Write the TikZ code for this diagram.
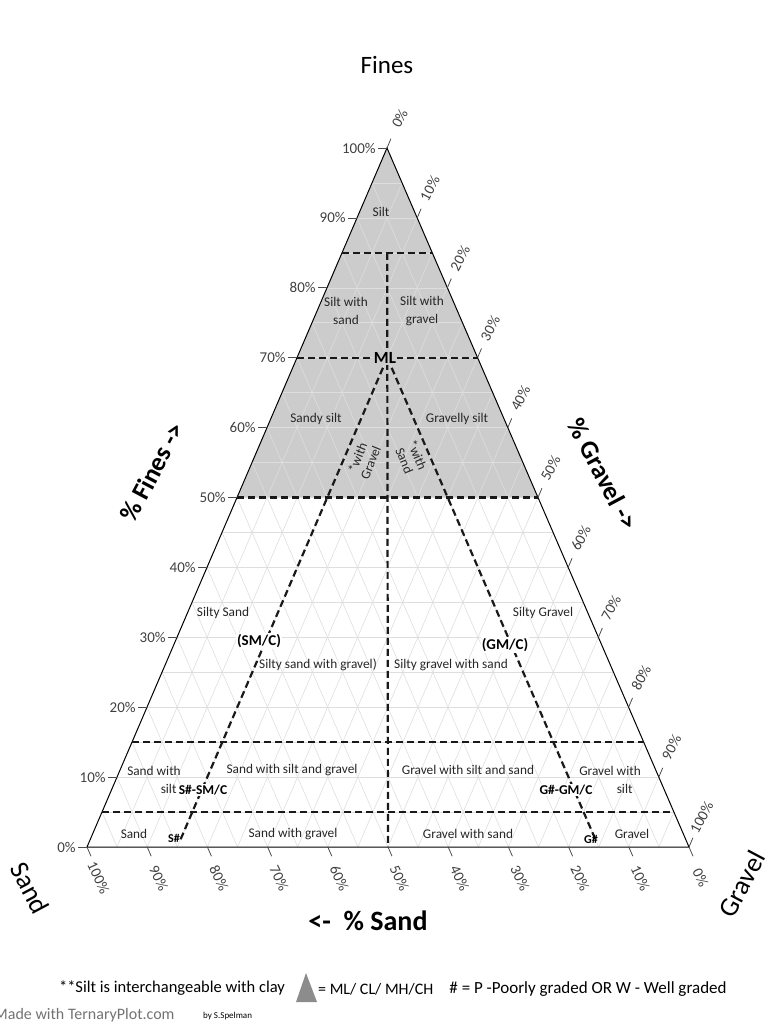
\documentclass[tikz,border=0pt]{standalone}
\usepackage{fontspec}
\setmainfont{Carlito}
\usetikzlibrary{calc}
\begin{document}
\begin{tikzpicture}[x=1pt,y=-1pt,
  lbl/.style={font=\fontsize{13.3}{14}\selectfont, text=black!85, align=center, inner sep=1pt},
  blbl/.style={font=\fontsize{15}{16}\selectfont\bfseries, inner sep=1pt},
  tl/.style={font=\fontsize{15}{16}\selectfont, text=black!75, inner sep=0pt},
  dl/.style={line width=2.2pt, dash pattern=on 7pt off 4pt, black!90},
  grid/.style={line width=0.6pt, black!13}]
\useasboundingbox (0,0) rectangle (768,1024);
\coordinate (S) at (87,847);
\coordinate (G) at (689,847);
\coordinate (T) at (387,148);
% shaded region
\fill[black!20] (barycentric cs:S=0.5,T=0.5) -- (T) -- (barycentric cs:G=0.5,T=0.5) -- cycle;
% grid
\foreach \i in {1,...,19}{
  \pgfmathsetmacro\a{\i/20}\pgfmathsetmacro\b{1-\a}
  \draw[grid] (barycentric cs:S=\b,T=\a) -- (barycentric cs:G=\b,T=\a);
  \draw[grid] (barycentric cs:S=\b,G=\a) -- (barycentric cs:T=\b,G=\a);
  \draw[grid] (barycentric cs:G=\b,S=\a) -- (barycentric cs:T=\b,S=\a);
}
% outline
\draw[line width=1pt] (S) -- (T) -- (G) -- cycle;
% ticks
\foreach \i in {0,...,10}{
  \pgfmathsetmacro\a{\i/10}\pgfmathsetmacro\b{1-\a}\pgfmathtruncatemacro\p{\i*10}
  \coordinate (fl) at (barycentric cs:S=\b,T=\a);
  \draw[black!70,line width=0.8pt] (fl) -- ++(-9,0) node[tl,anchor=east,xshift=-2pt] {\p\%};
  \coordinate (gr) at (barycentric cs:T=\b,G=\a);
  \draw[black!70,line width=0.8pt] (gr) -- ++(3.9,-9.2);
  \node[tl,rotate=62] at ($(gr)+(12.6,-29.5)$) {\p\%};
  \coordinate (sb) at (barycentric cs:G=\b,S=\a);
  \draw[black!70,line width=0.8pt] (sb) -- ++(4,9.2);
  \node[tl,rotate=-65] at ($(sb)+(11.5,31)$) {\p\%};
}
% dashed lines
\draw[dl] (barycentric cs:S=0.15,T=0.85) -- (barycentric cs:G=0.15,T=0.85);
\draw[dl] (barycentric cs:S=0.3,T=0.7) -- (barycentric cs:G=0.3,T=0.7);
\draw[dl] (barycentric cs:S=0.5,T=0.5) -- (barycentric cs:G=0.5,T=0.5);
\draw[dl] (barycentric cs:S=0.85,T=0.15) -- (barycentric cs:G=0.85,T=0.15);
\draw[dl] (barycentric cs:S=0.95,T=0.05) -- (barycentric cs:G=0.95,T=0.05);
\draw[dl] (barycentric cs:S=0.075,G=0.075,T=0.85) -- (barycentric cs:S=0.5,G=0.5);
\draw[dl] (barycentric cs:S=0.15,G=0.15,T=0.7) -- (barycentric cs:S=0.84,G=0.15,T=0.01);
\draw[dl] (barycentric cs:S=0.15,G=0.15,T=0.7) -- (barycentric cs:S=0.15,G=0.84,T=0.01);
% labels
\node[lbl] (silt) at (381,212) {Silt};
\node[lbl] (sws) at (346,311) {Silt with\\[4pt]sand};
\node[lbl] (swg) at (422,311) {Silt with\\[4pt]gravel};
\node[font=\fontsize{17}{18}\selectfont\bfseries, fill=black!20, inner sep=1pt] (ml) at (385,358) {ML};
\node[lbl] (sdsilt) at (316,419) {Sandy silt};
\node[lbl] (gvsilt) at (457,419) {Gravelly silt};
\node[lbl,rotate=68] (wg) at (364,460) {*with\\Gravel};
\node[lbl,rotate=-68] (wsd) at (411,458) {*with\\Sand};
\node[lbl] (ssand) at (223,613) {Silty Sand};
\node[blbl,fill=white] (smc) at (259,641) {(SM/C)};
\node[lbl] (sswg) at (318,665) {Silty sand with gravel)};
\node[lbl] (sgws) at (451,665) {Silty gravel with sand};
\node[lbl] (sgrav) at (543,613) {Silty Gravel};
\node[blbl,fill=white] (gmc) at (505,645) {(GM/C)};
\node[lbl] (swsilt) at (154,780) {Sand with\\[4pt]\hspace*{2.2em}silt};
\node[blbl,fill=white,font=\fontsize{13.5}{14}\selectfont\bfseries] (ssmc) at (203,790) {S\#-SM/C};
\node[lbl] (swsg) at (292,770) {Sand with silt and gravel};
\node[lbl] (gwss) at (468,770) {Gravel with silt and sand};
\node[lbl] (gwsilt) at (610,780) {Gravel with\\[4pt]\hspace*{2.2em}silt};
\node[blbl,fill=white,font=\fontsize{13.5}{14}\selectfont\bfseries] (ggmc) at (566,790) {G\#-GM/C};
\node[lbl] (sand) at (134,834) {Sand};
\node[blbl,font=\fontsize{12}{13}\selectfont\bfseries] (sh) at (174,838) {S\#};
\node[lbl] (swgr) at (293,834) {Sand with gravel};
\node[lbl] (gws) at (468,834) {Gravel with sand};
\node[blbl,font=\fontsize{12}{13}\selectfont\bfseries] (gh) at (591,839) {G\#};
\node[lbl] (grav) at (632,834) {Gravel};
% axis titles
\node[font=\fontsize{25}{26}\selectfont] (fines) at (387,65) {Fines};
\node[font=\fontsize{26}{28}\selectfont\bfseries, rotate=62] (fax) at (152,472) {\% Fines ->};
\node[font=\fontsize{26}{28}\selectfont\bfseries, rotate=-62] (gax) at (603,474) {\% Gravel ->};
\node[font=\fontsize{28}{30}\selectfont\bfseries] (sax) at (368,921) {<-\ \ \% Sand};
\node[font=\fontsize{27}{28}\selectfont, rotate=-62] (sandv) at (30,888) {Sand};
\node[font=\fontsize{27}{28}\selectfont, rotate=62] (gravv) at (742,884) {Gravel};
% footer
\node[font=\fontsize{16.5}{17}\selectfont] (note) at (172,988) {**Silt is interchangeable with clay};
\fill[black!45] (306,973) -- (317,1002) -- (296,1002) -- cycle;
\node[font=\fontsize{16}{17}\selectfont, anchor=west, inner sep=0pt] (leg) at (318,989) {= ML/ CL/ MH/CH};
\node[font=\fontsize{17}{18}\selectfont] (hash) at (588,989) {\# = P -Poorly graded OR W - Well graded};
\node[font=\fontsize{16}{17}\selectfont, text=black!55, anchor=west, inner sep=0pt] (made) at (-6,1015) {Made with TernaryPlot.com};
\node[font=\fontsize{9}{10}\selectfont, anchor=west, inner sep=0pt] (by) at (203,1016) {by S.Spelman};
\end{tikzpicture}
\end{document}
